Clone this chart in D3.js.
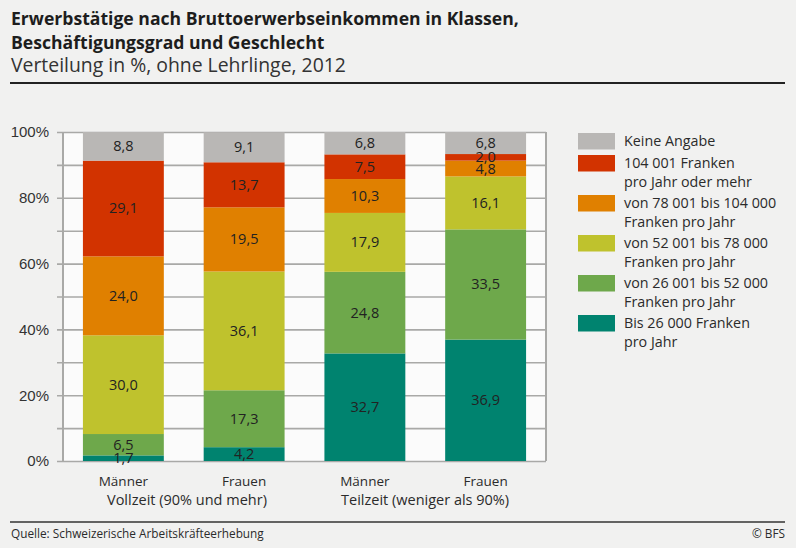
<!DOCTYPE html>
<html>
<head>
    <meta charset="UTF-8">
    <title>Erwerbstätige nach Bruttoerwerbseinkommen</title>
    <style>
        html, body {
            margin: 0;
            padding: 0;
            background-color: #f1f1f0;
        }

        svg {
            display: block;
            font-family: "Open Sans", sans-serif;
            fill: #2b2b2b;
        }

        .grid line {
            stroke: #a9a9a7;
            stroke-width: 1.6px;
        }

        .grid path {
            display: none;
        }

        .grid text {
            font-size: 15px;
            fill: #333;
        }

        .seg-label {
            font-size: 14.5px;
            text-anchor: middle;
            fill: #222;
        }
    </style>
</head>

<body>
<script src="https://d3js.org/d3.v7.min.js"></script>
<script>
    var groups = ["Männer Vollzeit", "Frauen Vollzeit", "Männer Teilzeit", "Frauen Teilzeit"];
    var barNames = ["Männer", "Frauen", "Männer", "Frauen"];

    // bottom of the stack first
    var bis26 = [1.7, 4.2, 32.7, 36.9];
    var bis52 = [6.5, 17.3, 24.8, 33.5];
    var bis78 = [30.0, 36.1, 17.9, 16.1];
    var bis104 = [24.0, 19.5, 10.3, 4.8];
    var ueber104 = [29.1, 13.7, 7.5, 2.0];
    var keine = [8.8, 9.1, 6.8, 6.8];

    var seriesNames = ["bis26", "bis52", "bis78", "bis104", "ueber104", "keine"];
    var seriesValues = [bis26, bis52, bis78, bis104, ueber104, keine];
    var seriesColors = ["#00836f", "#6ea84b", "#bfc22d", "#e08000", "#d23300", "#b9b7b5"];

    var yTicks = [0, 10, 20, 30, 40, 50, 60, 70, 80, 90, 100];
    var yLabels = ["0%", "", "20%", "", "40%", "", "60%", "", "80%", "", "100%"];

    // top of the legend first
    var legendNames = ["keine", "ueber104", "bis104", "bis78", "bis52", "bis26"];
    var legendLines = [
        ["Keine Angabe"],
        ["104 001 Franken", "pro Jahr oder mehr"],
        ["von 78 001 bis 104 000", "Franken pro Jahr"],
        ["von 52 001 bis 78 000", "Franken pro Jahr"],
        ["von 26 001 bis 52 000", "Franken pro Jahr"],
        ["Bis 26 000 Franken", "pro Jahr"]
    ];

    var width = 796,
        height = 548,
        plotLeft = 63,
        plotRight = 546,
        plotTop = 132,
        plotBottom = 461;

    var table = groups.map(function(g, i) {
        var row = {group: g};
        seriesNames.forEach(function(s, j) {
            row[s] = seriesValues[j][i];
        });
        return row;
    });

    var x = d3.scaleBand()
        .domain(groups)
        .range([plotLeft, plotRight])
        .paddingInner(0.33)
        .paddingOuter(0.165);

    var y = d3.scaleLinear()
        .domain([0, 100])
        .range([plotBottom, plotTop]);

    var color = d3.scaleOrdinal()
        .domain(seriesNames)
        .range(seriesColors);

    var stacked = d3.stack().keys(seriesNames)(table);

    var svg = d3.select("body").append("svg")
        .attr("width", width)
        .attr("height", height);

    // title block
    svg.append("text").attr("x", 11).attr("y", 25)
        .style("font-size", "17.6px").style("font-weight", 700).style("fill", "#1d1d1d")
        .text("Erwerbstätige nach Bruttoerwerbseinkommen in Klassen,");
    svg.append("text").attr("x", 11).attr("y", 49)
        .style("font-size", "17.6px").style("font-weight", 700).style("fill", "#1d1d1d")
        .text("Beschäftigungsgrad und Geschlecht");
    svg.append("text").attr("x", 11).attr("y", 72)
        .style("font-size", "19.4px").style("fill", "#333")
        .text("Verteilung in %, ohne Lehrlinge, 2012");
    svg.append("line").attr("x1", 10).attr("x2", 785).attr("y1", 83).attr("y2", 83)
        .style("stroke", "#222").style("stroke-width", 2);

    // plot background and frame
    svg.append("rect")
        .attr("x", plotLeft).attr("y", plotTop)
        .attr("width", plotRight - plotLeft).attr("height", plotBottom - plotTop)
        .style("fill", "#fbfbfb");

    var axis = d3.axisLeft(y)
        .tickValues(yTicks)
        .tickSize(plotRight - plotLeft + 6)
        .tickPadding(8)
        .tickFormat(function(d, i) { return yLabels[i]; });

    svg.append("g")
        .attr("class", "grid")
        .attr("transform", "translate(" + plotRight + ",0)")
        .call(axis);

    svg.append("line").attr("x1", plotLeft).attr("x2", plotLeft).attr("y1", plotTop).attr("y2", plotBottom)
        .style("stroke", "#a9a9a7").style("stroke-width", 2);
    svg.append("line").attr("x1", plotRight).attr("x2", plotRight).attr("y1", plotTop).attr("y2", plotBottom)
        .style("stroke", "#a9a9a7").style("stroke-width", 2);

    // stacked bars
    var layer = svg.selectAll(".layer")
        .data(stacked)
        .enter().append("g")
        .attr("class", "layer")
        .style("fill", function(d) { return color(d.key); });

    layer.selectAll("rect")
        .data(function(d) { return d; })
        .enter().append("rect")
        .attr("x", function(d) { return x(d.data.group); })
        .attr("width", x.bandwidth())
        .attr("y", function(d) { return y(Math.min(d[1], 100)); })
        .attr("height", function(d) { return y(d[0]) - y(Math.min(d[1], 100)); });

    // segment labels
    stacked.forEach(function(s) {
        svg.selectAll(".lab-" + s.key)
            .data(s)
            .enter().append("text")
            .attr("class", "seg-label lab-" + s.key)
            .attr("x", function(d) { return x(d.data.group) + x.bandwidth() / 2; })
            .attr("y", function(d) { return y((d[0] + Math.min(d[1], 100)) / 2) + 5; })
            .text(function(d) { return d3.format(".1f")(d[1] - d[0]).replace(".", ","); });
    });

    // category labels
    svg.selectAll(".bar-name")
        .data(groups)
        .enter().append("text")
        .attr("class", "bar-name")
        .attr("x", function(d) { return x(d) + x.bandwidth() / 2; })
        .attr("y", 486)
        .attr("text-anchor", "middle")
        .style("font-size", "13.5px")
        .text(function(d, i) { return barNames[i]; });

    svg.append("text").attr("x", 107).attr("y", 505)
        .style("font-size", "14.5px")
        .text("Vollzeit (90% und mehr)");
    svg.append("text").attr("x", 341).attr("y", 505)
        .style("font-size", "14.5px")
        .text("Teilzeit (weniger als 90%)");

    // legend
    var legendY = d3.scalePoint()
        .domain(legendNames.slice(1))
        .range([155, 315]);

    var legend = svg.selectAll(".legend")
        .data(legendNames)
        .enter().append("g")
        .attr("class", "legend")
        .attr("transform", function(d, i) {
            return "translate(578," + (i == 0 ? 133 : legendY(d)) + ")";
        });

    legend.append("rect")
        .attr("width", 37)
        .attr("height", 16.5)
        .style("fill", function(d) { return color(d); });

    legend.each(function(d, i) {
        d3.select(this).selectAll("text")
            .data(legendLines[i])
            .enter().append("text")
            .attr("x", 46)
            .attr("y", function(t, k) { return 13 + k * 18.5; })
            .style("font-size", "14.3px")
            .text(function(t) { return t; });
    });

    // source line
    svg.append("line").attr("x1", 10).attr("x2", 785).attr("y1", 522).attr("y2", 522)
        .style("stroke", "#333").style("stroke-width", 1.4);
    svg.append("text").attr("x", 11).attr("y", 538)
        .style("font-size", "11.8px")
        .text("Quelle: Schweizerische Arbeitskräfteerhebung");
    svg.append("text").attr("x", 785).attr("y", 538)
        .attr("text-anchor", "end")
        .style("font-size", "11.8px")
        .text("© BFS");
</script>
</body>
</html>
